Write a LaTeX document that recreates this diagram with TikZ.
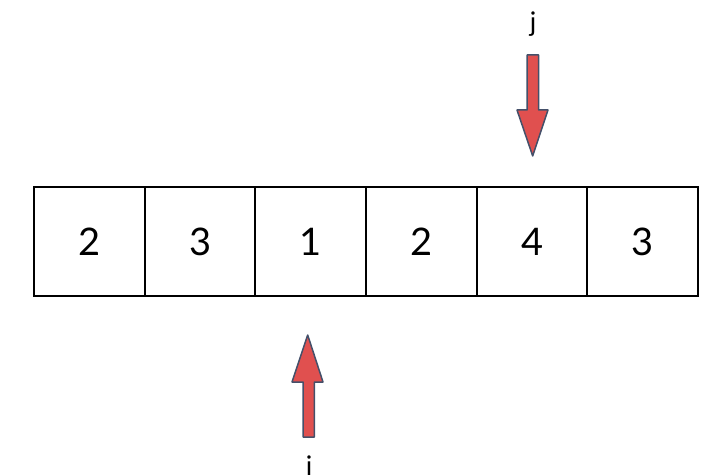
\documentclass[tikz,border=0pt]{standalone}
\usepackage{fontspec}
\setmainfont{Lato}
\begin{document}
\begin{tikzpicture}[x=1pt,y=-1pt,
  cell/.style={draw=black,line width=2pt,minimum width=110.7pt,minimum height=109pt,inner sep=0pt,font=\fontsize{38}{40}\selectfont,anchor=north west},
  redarrow/.style={fill=arrowred,draw=arrowedge,line width=1.5pt,line join=round},
  lbl/.style={font=\fontsize{27}{30}\selectfont,inner sep=0pt}]
\definecolor{arrowred}{HTML}{E0504F}
\definecolor{arrowedge}{HTML}{44506A}
\useasboundingbox (0,0) rectangle (705,476);
\foreach \v [count=\k from 0] in {2,3,1,2,4,3}{
  \node[cell] (c\k) at ({33+\k*110.67},186) {\v};
}
% j arrow (down)
\draw[redarrow] (527,55) -- (538.5,55) -- (538.5,110) -- (548,110) -- (532.7,156) -- (517,110) -- (527,110) -- cycle;
% i arrow (up)
\draw[redarrow] (303,437) -- (314.3,437) -- (314.3,382) -- (323,382) -- (307.7,335) -- (292,382) -- (303,382) -- cycle;
\node[lbl] (j) at (533,24) {j};
\node[lbl] (i) at (309,466) {i};
\end{tikzpicture}
\end{document}
